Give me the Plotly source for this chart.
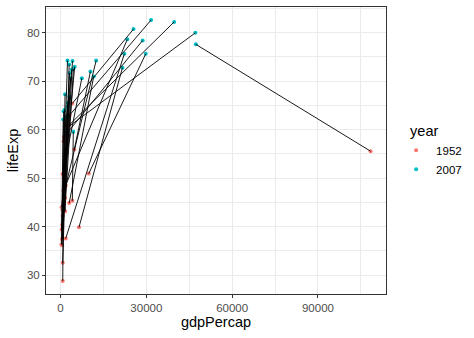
import plotly.graph_objects as go

# Gapminder, Asian countries: 1952 vs 2007
countries = ["Afghanistan", "Bahrain", "Bangladesh", "Cambodia", "China", "Hong Kong, China",
             "India", "Indonesia", "Iran", "Iraq", "Israel", "Japan", "Jordan",
             "Korea, Dem. Rep.", "Korea, Rep.", "Kuwait", "Lebanon", "Malaysia", "Mongolia",
             "Myanmar", "Nepal", "Oman", "Pakistan", "Philippines", "Saudi Arabia",
             "Singapore", "Sri Lanka", "Syria", "Taiwan", "Thailand", "Vietnam",
             "West Bank and Gaza", "Yemen, Rep."]

gdp_1952 = [779.4453, 9867.085, 684.2442, 368.4693, 400.4486, 3054.421, 546.5657, 749.6817,
            3035.326, 4129.766, 4086.522, 3216.956, 1546.908, 1088.278, 1030.592, 108382.4,
            4834.804, 1831.133, 786.5669, 331.0, 545.8657, 1828.23, 684.5971, 1272.88,
            6459.555, 2315.138, 1083.532, 1643.485, 1206.947, 757.7974, 605.0665, 1515.592,
            781.7176]
life_1952 = [28.801, 50.939, 37.484, 39.417, 44.0, 60.96, 37.373, 37.468, 44.869, 45.32,
             65.39, 63.03, 43.158, 50.056, 47.453, 55.565, 55.928, 48.463, 42.244, 36.319,
             36.157, 37.578, 43.436, 47.752, 39.875, 60.396, 57.593, 45.883, 58.5, 50.848,
             40.412, 43.16, 32.548]

gdp_2007 = [974.5803, 29796.05, 1391.254, 1713.779, 4959.115, 39724.98, 2452.21, 3540.652,
            11605.71, 4471.062, 25523.28, 31656.07, 4519.461, 1593.065, 23348.14, 47306.99,
            10461.06, 12451.66, 3095.772, 944.0, 1091.36, 22316.19, 2605.948, 3190.481,
            21654.83, 47143.18, 3970.095, 4184.548, 28718.28, 7458.396, 2441.577, 3025.35,
            2280.77]
life_2007 = [43.828, 75.635, 64.062, 59.723, 72.961, 82.208, 64.698, 70.65, 70.964, 59.545,
             80.745, 82.603, 72.535, 67.297, 78.623, 77.588, 71.993, 74.241, 66.803, 62.069,
             63.785, 75.64, 65.483, 71.688, 72.777, 79.972, 72.396, 74.143, 78.4, 70.616,
             74.249, 73.422, 62.698]

years = ["1952", "2007"]
year_colors = {"1952": "#F8766D", "2007": "#00BFC4"}

# one segment per country, joined with gaps
seg_x, seg_y = [], []
for x0, y0, x1, y1 in zip(gdp_1952, life_1952, gdp_2007, life_2007):
    seg_x += [x0, x1, None]
    seg_y += [y0, y1, None]

all_x = gdp_1952 + gdp_2007
all_y = life_1952 + life_2007
xpad = (max(all_x) - min(all_x)) * 0.05
ypad = (max(all_y) - min(all_y)) * 0.05

font = "Liberation Sans, Arial, sans-serif"

fig = go.Figure()
# points first, connecting lines drawn over them
for yr, gx, ly in [("1952", gdp_1952, life_1952), ("2007", gdp_2007, life_2007)]:
    fig.add_trace(go.Scatter(x=gx, y=ly, mode="markers", name=yr, text=countries,
                             marker=dict(color=year_colors[yr], size=4)))
fig.add_trace(go.Scatter(x=seg_x, y=seg_y, mode="lines",
                         line=dict(color="black", width=0.9), showlegend=False,
                         hoverinfo="skip"))

axis_common = dict(
    showline=True, mirror=True, linecolor="#333333", linewidth=1,
    ticks="outside", ticklen=3, tickcolor="#333333", tickwidth=1,
    showgrid=True, gridcolor="#EBEBEB", gridwidth=1.1,
    zeroline=False, tickfont=dict(size=11.5, color="#4D4D4D", family=font),
)

fig.update_layout(
    width=474, height=338,
    margin=dict(l=46, r=88, t=7, b=44),
    paper_bgcolor="white", plot_bgcolor="white",
    font=dict(family=font),
    xaxis=dict(range=[min(all_x) - xpad, max(all_x) + xpad], tick0=0, dtick=30000,
               tickformat="d",
               minor=dict(tick0=15000, dtick=30000, showgrid=True, gridcolor="#EBEBEB",
                          gridwidth=0.6, ticks=""),
               title=dict(text="gdpPercap", font=dict(size=14.5, color="black"), standoff=4),
               **axis_common),
    yaxis=dict(range=[min(all_y) - ypad, max(all_y) + ypad], tick0=30, dtick=10,
               minor=dict(tick0=25, dtick=10, showgrid=True, gridcolor="#EBEBEB",
                          gridwidth=0.6, ticks=""),
               title=dict(text="lifeExp", font=dict(size=14.5, color="black"), standoff=4),
               **axis_common),
    legend=dict(title=dict(text="year", font=dict(size=14.5, color="black")),
                font=dict(size=11.5, color="black"),
                x=1.065, xanchor="left", y=0.5, yanchor="middle",
                itemwidth=30, indentation=-12),
)

fig.write_html("out.html")
